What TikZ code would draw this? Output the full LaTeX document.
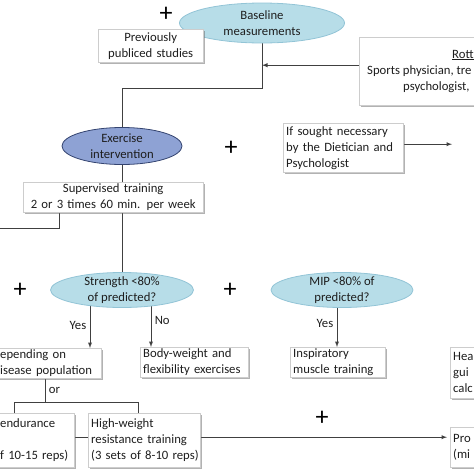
\documentclass[tikz,border=0pt]{standalone}
\usepackage{fontspec}
\setmainfont{Carlito}
\usetikzlibrary{arrows,shapes.geometric,shadows,backgrounds}
\definecolor{ovalblue}{RGB}{183,221,232}
\definecolor{ovaledge}{RGB}{146,196,214}
\definecolor{exblue}{RGB}{142,162,212}
\definecolor{exedge}{RGB}{52,68,112}
\definecolor{linegray}{RGB}{64,64,64}
\definecolor{boxedge}{RGB}{205,205,205}
\definecolor{txt}{RGB}{30,30,30}

\begin{document}
\begin{tikzpicture}[x=1pt,y=1pt,yscale=-1,xscale=1,
  every node/.style={font=\fontsize{12.7}{16}\selectfont, text=txt},
  oval/.style={ellipse, draw=ovaledge, fill=ovalblue, line width=0.8pt, align=center, inner xsep=0pt, inner ysep=-4pt},
  exoval/.style={oval, draw=exedge, fill=exblue},
  box/.style={rectangle, draw=boxedge, fill=white, inner xsep=3pt, inner ysep=0pt, anchor=north west,
    drop shadow={shadow xshift=1.5pt, shadow yshift=-2pt, opacity=0.5, fill=black!60}},
  conn/.style={draw=linegray, line width=0.9pt},
  arr/.style={conn, -latex},
  plus/.style={font=\fontsize{26}{26}\selectfont, text=black}
]
\useasboundingbox (0,0) rectangle (474,474);
\clip (0,0) rectangle (474,474);

%Shape: Ellipse [baseline]
\node[oval, minimum width=165, minimum height=40] (base) at (262,23) {Baseline\\measurements};
\node[box, text width=99, minimum height=33, align=center] (prev) at (98,29) {Previously\\publiced studies};
\node[plus] (p1) at (166,14) {+};

%Shape: Rectangle [team]
\node[box, minimum width=131, minimum height=68] (rott) at (359,37) {};
\node[anchor=west, inner sep=0pt] (rotta) at (452,55) {\underline{Rott}};
\node[anchor=west, inner sep=0pt] (rottb) at (367,71) {Sports physician, tre};
\node[anchor=west, inner sep=0pt] (rottc) at (403,87) {psychologist,};

%Shape: Ellipse [exercise]
\node[exoval, minimum width=120, minimum height=37] (ex) at (122,146) {Exercise\\intervention};
\node[plus] (p2) at (231,148) {+};
\node[box, text width=114, minimum height=49, align=left] (sought) at (283,123) {If sought necessary\\by the Dietician and\\Psychologist};
\node[box, text width=174, minimum height=30, align=center] (sup) at (23,182) {Supervised training\\2 or 3 times 60 min. per week};
\coordinate (offl) at (0,228);
\coordinate (offr) at (452,144);

%Shape: Ellipse [tests]
\node[oval, minimum width=143, minimum height=35] (str) at (122,290) {Strength <80\%\\of predicted?};
\node[oval, minimum width=142, minimum height=35] (mip) at (342,290) {MIP <80\% of\\predicted?};
\node[plus] (p3) at (20,290) {+};
\node[plus] (p4) at (230,290) {+};

%Shape: Rectangle [training]
\node[box, text width=98, minimum height=30, align=left] (dep) at (-3,348) {epending on\\isease population};
\node[box, text width=102, minimum height=30, align=left] (body) at (140,347) {Body-weight and\\\mbox{flexibility exercises}};
\node[box, text width=89, minimum height=30, align=left] (insp) at (290,347) {Inspiratory\\muscle training};
\node[box, text width=40, minimum height=51, align=left] (hea) at (450,347) {Hea\\gui\\calc};
\node[box, text width=71, minimum height=54, align=left] (endu) at (-3,413) {endurance\\\mbox{}\\f 10-15 reps)};
\node[box, text width=106, minimum height=54, align=left] (high) at (88,413) {High-weight\\resistance training\\\mbox{(3 sets of 8-10 reps)}};
\node[box, text width=40, minimum height=40, align=left] (pro) at (450,427) {Pro\\(mi};
\node[plus] (p5) at (322,418) {+};
\coordinate (bend) at (0,88);
\coordinate (orj) at (0,402);

\begin{scope}[on background layer]
\draw[conn] (base.center) -- (base.center |- bend) -| (ex.center);
\draw[arr] ([yshift=-6pt]rott.west) -- ([yshift=-6pt]rott.west -| base.south);
\draw[conn] (ex.center) -- (ex.center |- sup.north);
\draw[conn] (str.center |- sup.south) -- (str.center);
\draw[conn] ([xshift=-54pt]sup.south) |- (offl);
\draw[arr] ([yshift=-3.5pt]sought.east) -- ([yshift=-3.5pt]sought.east -| offr);
\draw[arr] ([xshift=-32pt]str.center) -- ([xshift=-32pt]str.center |- dep.north) node[pos=.61, left] {Yes};
\draw[arr] ([xshift=29pt]str.center) -- ([xshift=29pt]str.center |- body.north) node[pos=.53, right] {No};
\draw[arr] ([xshift=-5pt]mip.center) -- ([xshift=-5pt]mip.center |- insp.north) node[pos=.58, left] {Yes};
\draw[conn] ([xshift=-4pt]dep.south) -- ([xshift=-4pt]dep.south |- orj) node[midway, right] {or};
\draw[conn] ([xshift=-21pt]endu.north) -- ([xshift=-21pt]endu.north |- orj) -- ([xshift=-6pt]high.north |- orj) -- ([xshift=-6pt]high.north);
\draw[conn] ([yshift=-3pt]endu.east) -- ([yshift=-3pt]high.west);
\draw[arr, shorten >=3pt] ([yshift=-3pt]high.east) -- ([yshift=-3pt]high.east -| pro.west);
\end{scope}

\end{tikzpicture}
\end{document}
